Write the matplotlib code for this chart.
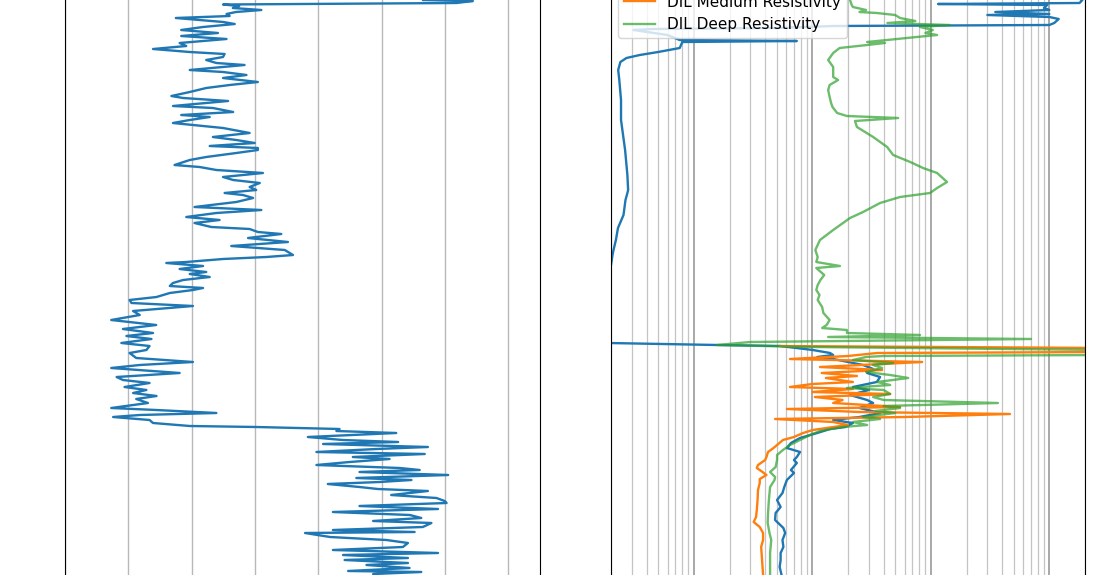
import numpy as np
import matplotlib
matplotlib.use("Agg")
import matplotlib.pyplot as plt

# ---------------- data (depth in display rows) ----------------
gr_depth = [-45, -25, -10, -3, 0, 1, 3, 4.5, 6, 8, 10, 12, 14, 16, 18, 20, 22, 24, 27, 30, 33, 36, 39, 43, 46, 49,
            52, 54, 57, 60, 63, 65, 70, 72, 75, 78, 82, 85, 88, 92, 96, 98, 101, 106, 108, 112, 115, 117, 120,
            123, 128, 133, 137, 140, 143, 146, 148, 150, 153, 157, 160, 165, 167, 170, 173, 177, 180, 183, 187,
            190, 193, 195, 198, 202, 204, 207, 210, 213, 217, 220, 223, 227, 229, 232, 234, 238, 242, 246, 250,
            255, 257, 259, 262, 263, 266, 269, 272, 274, 277, 280, 283, 286, 288, 290, 293, 297, 300, 303, 306,
            311, 315, 320, 325, 329, 333, 336, 339, 343, 346, 350, 353, 358, 362, 365, 368, 373, 377, 380, 383,
            387, 390, 393, 396, 399, 403, 408, 410, 413, 415, 417, 420, 423, 426, 427, 429, 431, 433, 437, 440,
            442, 444, 447, 449, 452, 454, 457, 459, 462, 465, 468, 470, 472, 475, 478, 480, 482, 484, 487, 489,
            491, 495, 498, 501, 503, 506, 509, 512, 515, 518, 521, 523, 527, 530, 532, 533, 537, 540, 543, 547,
            550, 553, 555, 558, 560, 563, 565, 568, 571, 572, 574, 580, 590, 600, 615]
gr_values = [118, 122, 116, 120, 113, 128.8, 123.6, 49.9, 55, 53, 62, 54, 51, 52, 35, 42.5, 50, 53.6, 43.6, 36.7,
             48.3, 36.7, 51, 36.2, 38.3, 27.8, 39.4, 50.4, 49.9, 44.6, 47.8, 56.7, 39.4, 49.9, 57.3, 49.9, 60.9,
             52, 44.6, 39.4, 33.6, 37.3, 51.5, 34.1, 46.7, 53.1, 36.7, 45.7, 39.4, 34.1, 49.9, 58.3, 46.7, 54.1,
             59.9, 45.7, 60.9, 60.9, 54.1, 44.6, 39.4, 34.6, 42.5, 47.8, 62.5, 49.9, 53.1, 61.5, 58.3, 60.4, 50.4,
             56.2, 59.4, 54.1, 48.8, 40.9, 62, 47.8, 38.3, 48.8, 40.9, 46.2, 58.3, 60.9, 68.3, 57.8, 70.4, 52.5,
             69.4, 72, 63.6, 49.9, 38.3, 32, 43.6, 36.2, 44.6, 39.4, 45.7, 37.3, 34.1, 33.1, 43.6, 40.4, 33.1,
             28.9, 20.4, 21, 40.4, 21.5, 23.6, 14.6, 28.8, 18.3, 27.8, 19.4, 27.3, 17.8, 26.7, 25.7, 20.4, 22.5,
             40.4, 23.6, 14.6, 36.2, 16.3, 18.3, 26.7, 18.8, 25.7, 21.5, 28.9, 22.5, 26.2, 14.6, 28.8, 47.8, 23.6,
             15.2, 26.7, 27.8, 39.4, 60.4, 86.7, 85.7, 104.6, 76.7, 87.7, 105.2, 81.5, 114.6, 98.3, 79.4, 113.6,
             90.9, 102.5, 89.9, 79.4, 105.7, 112, 93, 121, 92, 109.4, 99.4, 83, 93, 98.8, 114.6, 103, 117.3, 119.9,
             120.5, 93, 117.8, 84.6, 108.9, 112.5, 97.3, 115.7, 113, 84.6, 110.4, 75.8, 83.7, 101.5, 108.3, 106.7,
             84.6, 117.8, 87.8, 108.3, 88.3, 108.3, 95.2, 108.8, 89.4, 112.5, 97.3, 100, 95, 105, 98]

shallow_depth = [-45, -25, -10, 0, 3, 4, 5, 8, 10, 12, 14, 15, 17, 19, 23, 25, 26, 28, 29, 30, 35, 40, 41, 42, 45,
                 48, 52, 55, 58, 62, 70, 80, 100, 120, 150, 175, 190, 193, 200, 215, 228, 240, 250, 255, 265, 270,
                 300, 330, 342, 343, 345, 346, 350, 353, 355, 357, 359, 365, 369, 373, 377, 382, 387, 390, 395, 400,
                 403, 408, 413, 417, 420, 423, 427, 429, 433, 438, 443, 448, 452, 457, 460, 463, 470, 473, 480, 487,
                 493, 500, 507, 513, 520, 528, 533, 540, 547, 553, 560, 567, 575, 590, 615]
shallow_values = [1500, 2500, 1200, 1900, 1800, 115, 960, 900, 1000, 350, 1000, 300, 1000, 1200, 1100, 1000, 15,
                  5, 0.45, 0.31, 0.6, 0.76, 7.4, 0.8, 0.78, 0.76, 0.5, 0.35, 0.27, 0.24, 0.23, 0.235, 0.243,
                  0.243, 0.263, 0.275, 0.279, 0.275, 0.265, 0.255, 0.229, 0.22, 0.21, 0.206, 0.2, 0.18, 0.15,
                  0.15, 0.17, 0.19, 1.57, 5.33, 10.1, 14.1, 15, 11, 15, 26.8, 32.6, 29, 37.3, 35, 22, 30, 20.8,
                  29, 32.6, 25, 37.3, 25, 15, 22, 19, 14.1, 11, 7.87, 6.6, 6.1, 7.87, 7.4, 7, 7.4, 6.6, 7, 6.1,
                  5.8, 5.6, 5.04, 5.4, 4.9, 4.85, 5.7, 5.9, 5.6, 5.7, 5.4, 5.4, 5.3, 5.5, 5.6, 5.5]

medium_depth = [346, 348, 350, 352, 353, 356, 359, 362, 367, 370, 373, 376, 378, 382, 384, 387, 389, 392, 394, 397,
                400, 403, 407, 409, 412, 414, 417, 419, 422, 425, 427, 430, 433, 437, 440, 445, 448, 452, 457, 460,
                465, 468, 472, 475, 479, 483, 490, 500, 510, 517, 522, 527, 533, 540, 547, 557, 567, 575, 600, 615]
medium_values = [5.33, 3000, 3000, 3000, 35.3, 20, 6.48, 84.5, 11.6, 38.8, 12, 23.8, 13, 22, 10, 6.48, 22, 10,
                 45.4, 10.5, 18, 15, 55, 6.1, 25, 465, 60, 4.85, 15, 20, 15, 10.1, 8.35, 7, 5.65, 5.04, 4.7, 4.23,
                 4.1, 4.0, 3.48, 3.4, 3.8, 4.1, 3.6, 3.6, 3.48, 3.45, 3.4, 3.35, 3.2, 3.6, 3.84, 3.84, 3.7, 3.75,
                 3.8, 3.84, 3.9, 3.85]

deep_depth = [-45, -20, 0, 5, 7, 10, 12, 13, 15, 18, 21, 23, 25, 27, 30, 33, 35, 37, 42, 43, 45, 48, 53, 60, 67,
              77, 80, 85, 90, 97, 103, 107, 113, 116, 118, 121, 127, 137, 147, 155, 162, 168, 173, 182, 188, 193,
              197, 203, 212, 218, 230, 240, 250, 257, 262, 266, 268, 275, 280, 285, 290, 295, 300, 307, 313, 320,
              325, 328, 330, 333, 335, 337, 339, 342, 345, 347, 350, 352, 355, 356, 357, 360, 363, 365, 368, 372,
              375, 378, 382, 385, 388, 390, 394, 397, 400, 403, 406, 408, 411, 413, 417, 419, 422, 425, 427, 431,
              435, 440, 445, 450, 455, 460, 467, 472, 477, 480, 487, 500, 513, 523, 533, 540, 553, 575, 600, 615]
deep_values = [20, 21, 20.8, 21.5, 22, 28.4, 25, 35, 50, 55, 74, 43, 145, 81, 104, 90, 113, 76, 29, 41, 29, 17, 15,
               13.6, 15, 15, 16.5, 14, 13.6, 14, 14.4, 14.8, 16.2, 19.6, 53, 22.9, 23.8, 32.6, 42.8, 48.1, 67, 86,
               113, 137, 113, 98.5, 55, 37.3, 26.8, 20.8, 15, 11.6, 10.6, 11.1, 10.8, 17.1, 10.8, 12.6, 11.7, 11.1,
               10.8, 11.5, 11.1, 12.1, 12.4, 14, 13.2, 12.1, 19.6, 19.6, 81, 13.6, 700, 3, 1.57, 10, 3000, 3000,
               3000, 39.6, 28.4, 22, 48.1, 32.6, 38.8, 28.4, 45.4, 64.4, 35.3, 45.4, 19.6, 40, 45.4, 32.6, 40,
               368, 40, 55, 34, 50, 26.8, 37.3, 22, 29, 18, 11.6, 9.55, 7.87, 6.48, 5.65, 5.04, 5.04, 4.9, 4.4,
               4.85, 4.8, 4.4, 4.3, 4.23, 4.2, 4.35, 4.5, 4.4, 4.4, 4.5, 4.4]

gr_ticks = [0, 20, 40, 60, 80, 100, 120, 140]
res_labels = ["SFL Shallow Resistivity", "DIL Medium Resistivity", "DIL Deep Resistivity"]

# ---------------- figure ----------------
top_row, bottom_row = -41, 615
fig = plt.figure(figsize=(10.95, 5.75), dpi=100)
h = (bottom_row - top_row) / 575
ax1 = fig.add_axes([65 / 1095, -(bottom_row - 575) / 575, 475 / 1095, h])
ax2 = fig.add_axes([611 / 1095, -(bottom_row - 575) / 575, 474 / 1095, h])

ax1.plot(gr_values, gr_depth, color="C0", lw=1.7)
ax1.set_xlim(0, 150)
ax1.set_xticks(gr_ticks)
ax1.set_ylim(bottom_row, top_row)
ax1.grid(axis="x", color="#b8b8b8", lw=1.0)
ax1.tick_params(left=False, labelleft=False)
ax1.set_xlabel("Gamma Ray (API)")

ax2.plot(shallow_values, shallow_depth, color="C0", lw=1.7, label=res_labels[0])
ax2.plot(medium_values, medium_depth, color="C1", lw=1.7, label=res_labels[1])
ax2.plot(deep_values, deep_depth, color="C2", lw=1.7, alpha=0.7, label=res_labels[2])
ax2.set_xscale("log")
ax2.set_xlim(0.2, 2000)
ax2.set_ylim(bottom_row, top_row)
ax2.grid(axis="x", which="major", color="#a8a8a8", lw=1.4)
ax2.grid(axis="x", which="minor", color="#c4c4c4", lw=0.9)
ax2.tick_params(which="both", left=False, labelleft=False)
ax2.set_xlabel("Resistivity (ohm.m)")
ax2.legend(loc="upper left", fontsize=11, borderaxespad=0.45)

fig.savefig("out.png", dpi=100)
